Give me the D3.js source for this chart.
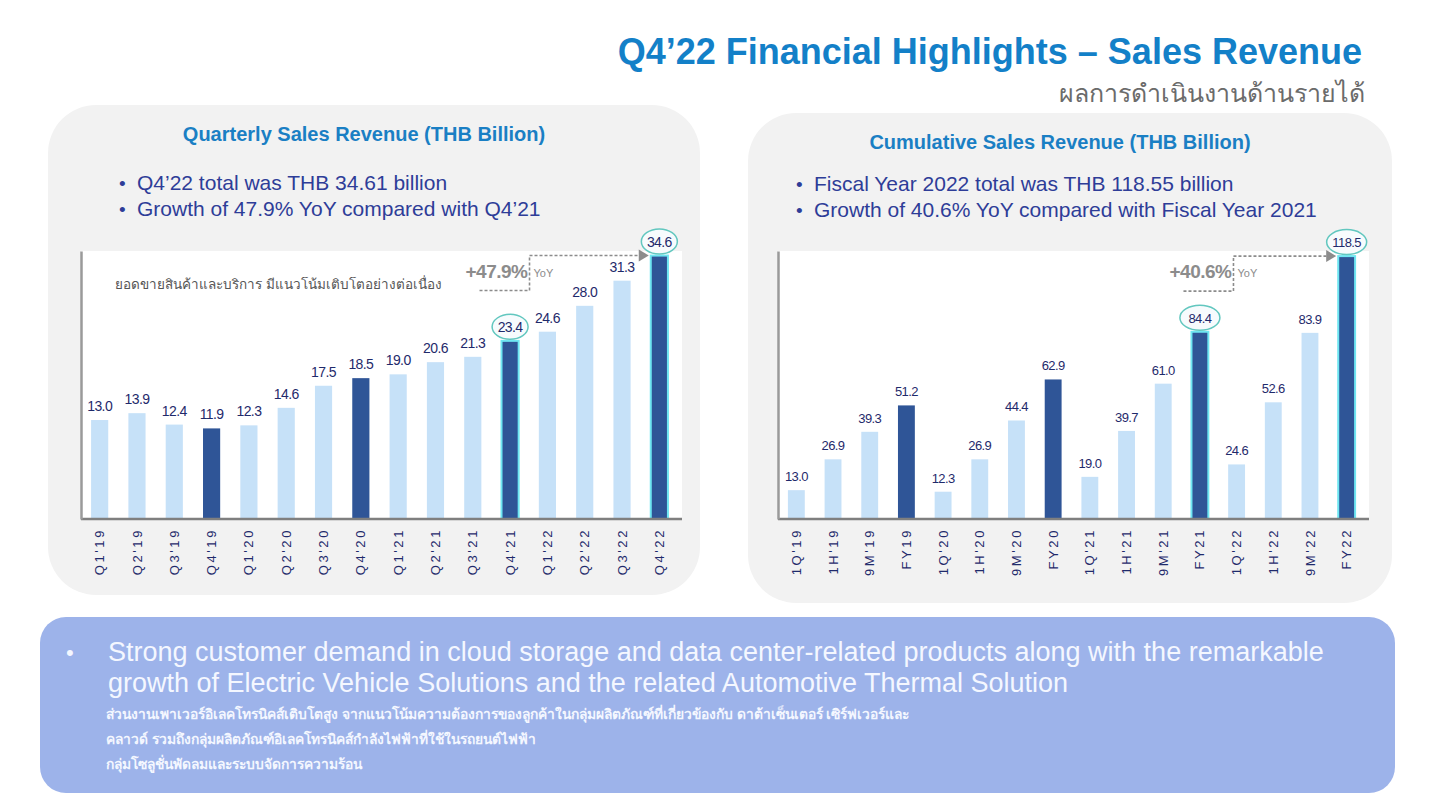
<!DOCTYPE html>
<html lang="en">
<head>
<meta charset="UTF-8">
<script src="https://d3js.org/d3.v7.min.js"></script>
<title>Q4'22 Financial Highlights – Sales Revenue</title>
<style>
  body { margin: 0; background: #fff; }
  text { font-family: "Liberation Sans", Arial, sans-serif; }
</style>
</head>
<body>
<script>
// quarterly chart
const qCategories = ["Q1'19", "Q2'19", "Q3'19", "Q4'19", "Q1'20", "Q2'20", "Q3'20", "Q4'20",
                     "Q1'21", "Q2'21", "Q3'21", "Q4'21", "Q1'22", "Q2'22", "Q3'22", "Q4'22"];
const qValues = [13.0, 13.9, 12.4, 11.9, 12.3, 14.6, 17.5, 18.5, 19.0, 20.6, 21.3, 23.4, 24.6, 28.0, 31.3, 34.6];
const qDark = ["Q4'19", "Q4'20", "Q4'21", "Q4'22"];
const qCircled = ["Q4'21", "Q4'22"];

// cumulative chart
const cCategories = ["1Q'19", "1H'19", "9M'19", "FY19", "1Q'20", "1H'20", "9M'20", "FY20",
                     "1Q'21", "1H'21", "9M'21", "FY21", "1Q'22", "1H'22", "9M'22", "FY22"];
const cValues = [13.0, 26.9, 39.3, 51.2, 12.3, 26.9, 44.4, 62.9, 19.0, 39.7, 61.0, 84.4, 24.6, 52.6, 83.9, 118.5];
const cDark = ["FY19", "FY20", "FY21", "FY22"];
const cCircled = ["FY21", "FY22"];

const W = 1438, H = 805;
const LIGHT = "#c6e1f8", DARK = "#2f5597", NAVY = "#1f2a6b";

const svg = d3.select("body").append("svg")
    .attr("width", W)
    .attr("height", H);

// page title
svg.append("text")
    .attr("x", 1362).attr("y", 64)
    .attr("text-anchor", "end")
    .attr("font-size", 36).attr("font-weight", "bold")
    .attr("fill", "#1380c8")
    .text("Q4’22 Financial Highlights – Sales Revenue");
svg.append("text")
    .attr("x", 1365).attr("y", 102)
    .attr("text-anchor", "end")
    .attr("font-size", 25)
    .attr("fill", "#6b6b6b")
    .text("ผลการดำเนินงานด้านรายได้");

function drawPanel(opt) {
    const g = svg.append("g");
    g.append("rect")
        .attr("x", opt.px).attr("y", opt.py)
        .attr("width", opt.pw).attr("height", opt.ph)
        .attr("rx", 48)
        .attr("fill", "#f2f2f2");

    g.append("text")
        .attr("x", opt.px + opt.pw / 2 - 10).attr("y", opt.py + 36)
        .attr("text-anchor", "middle")
        .attr("font-size", 20).attr("font-weight", "bold")
        .attr("fill", "#1a7fc4")
        .text(opt.title);

    opt.bullets.forEach((b, i) => {
        g.append("text")
            .attr("x", opt.bx).attr("y", opt.by + i * 26)
            .attr("font-size", 19).attr("fill", "#2e3d98")
            .text("•");
        g.append("text")
            .attr("x", opt.bx + 18).attr("y", opt.by + i * 26)
            .attr("font-size", 21).attr("fill", "#2e3d98")
            .text(b);
    });

    const x = d3.scaleBand()
        .domain(opt.categories)
        .range([opt.left, opt.right])
        .paddingInner(0.54).paddingOuter(0.27);
    const y = d3.scaleLinear()
        .domain([0, opt.yMax])
        .range([519, 251]);

    // plot background
    g.append("rect")
        .attr("x", opt.left).attr("y", 251)
        .attr("width", opt.right - opt.left + 4).attr("height", 268)
        .attr("fill", "#fff");

    const data = opt.categories.map((c, i) => ({ c, v: opt.values[i] }));

    g.selectAll("rect.bar")
        .data(data)
        .join("rect")
        .attr("class", "bar")
        .attr("x", d => x(d.c))
        .attr("y", d => y(d.v))
        .attr("width", x.bandwidth())
        .attr("height", d => y(0) - y(d.v))
        .attr("fill", d => opt.dark.includes(d.c) ? DARK : LIGHT)
        .attr("stroke", d => opt.circled.includes(d.c) ? "#6fe6f2" : "none")
        .attr("stroke-width", 2);

    // circled labels
    g.selectAll("ellipse.hl")
        .data(data.filter(d => opt.circled.includes(d.c)))
        .join("ellipse")
        .attr("class", "hl")
        .attr("cx", d => x(d.c) + x.bandwidth() / 2)
        .attr("cy", d => y(d.v) - 14)
        .attr("rx", opt.ellRx).attr("ry", 12.5)
        .attr("fill", "#f7fbfd")
        .attr("stroke", "#62c7bf").attr("stroke-width", 1.5);

    g.selectAll("text.val")
        .data(data)
        .join("text")
        .attr("class", "val")
        .attr("x", d => x(d.c) + x.bandwidth() / 2)
        .attr("y", d => y(d.v) - 9)
        .attr("text-anchor", "middle")
        .attr("font-size", opt.valSize)
        .attr("letter-spacing", -0.6)
        .attr("fill", NAVY)
        .text(d => d.v.toFixed(1));

    // axes
    const xAxis = g.append("g")
        .attr("transform", `translate(0,${y(0)})`)
        .call(d3.axisBottom(x).tickSize(0).tickSizeOuter(0));
    xAxis.select(".domain")
        .attr("stroke", "#7f7f7f").attr("stroke-width", 2.5)
        .attr("d", `M${opt.left},0H${opt.right + 4}`);
    xAxis.selectAll("text")
        .attr("transform", "rotate(-90)")
        .attr("text-anchor", "end")
        .attr("x", -9).attr("y", 0).attr("dy", "0.35em")
        .attr("font-size", 13)
        .attr("letter-spacing", 2.6)
        .attr("font-family", "'Liberation Sans', Arial, sans-serif")
        .attr("fill", NAVY);

    const yAxis = g.append("g")
        .attr("transform", `translate(${opt.left},0)`)
        .call(d3.axisLeft(y).tickValues([]).tickSizeOuter(0));
    yAxis.select(".domain").attr("stroke", "#9a9a9a").attr("stroke-width", 2.5);

    // YoY growth arrow
    const lastC = opt.categories[opt.categories.length - 1];
    const lastV = opt.values[opt.values.length - 1];
    const topY = y(lastV);
    const vx = x(opt.arrowFrom) + opt.arrowOffset;
    const endX = x(lastC) - 8;
    const bottomY = topY + 35;
    const dash = { stroke: "#8c8c8c", "stroke-width": 1.6, "stroke-dasharray": "3,2", fill: "none" };
    const arrow = g.append("path")
        .attr("d", `M${vx - 50},${bottomY}H${vx}V${topY}H${endX}`);
    Object.entries(dash).forEach(([k, v]) => arrow.attr(k, v));
    g.append("path")
        .attr("d", `M${endX + 6},${topY}L${endX - 4},${topY - 6}L${endX - 4},${topY + 6}Z`)
        .attr("fill", "#8c8c8c");
    g.append("text")
        .attr("x", vx - 2).attr("y", topY + 22)
        .attr("text-anchor", "end")
        .attr("font-size", 19).attr("font-weight", "bold")
        .attr("letter-spacing", -0.5)
        .attr("fill", "#8c8c8c")
        .text(opt.yoy);
    g.append("text")
        .attr("x", vx + 4).attr("y", topY + 21)
        .attr("font-size", 11)
        .attr("fill", "#8c8c8c")
        .text("YoY");

    return g;
}

const left = drawPanel({
    px: 48, py: 105, pw: 652, ph: 490,
    title: "Quarterly Sales Revenue (THB Billion)",
    bx: 119, by: 190,
    bullets: ["Q4’22 total was THB 34.61 billion", "Growth of 47.9% YoY compared with Q4’21"],
    categories: qCategories, values: qValues, dark: qDark, circled: qCircled,
    left: 81, right: 678, yMax: 35.2, valSize: 14, ellRx: 18,
    arrowFrom: "Q4'21", arrowOffset: 28, yoy: "+47.9%"
});
left.append("text")
    .attr("x", 115).attr("y", 289)
    .attr("font-size", 13.5)
    .attr("fill", "#555")
    .text("ยอดขายสินค้าและบริการ มีแนวโน้มเติบโตอย่างต่อเนื่อง");

drawPanel({
    px: 748, py: 113, pw: 644, ph: 490,
    title: "Cumulative Sales Revenue (THB Billion)",
    bx: 796, by: 191,
    bullets: ["Fiscal Year 2022 total was THB 118.55 billion", "Growth of 40.6% YoY compared with Fiscal Year 2021"],
    categories: cCategories, values: cValues, dark: cDark, circled: cCircled,
    left: 778, right: 1365, yMax: 120.8, valSize: 13, ellRx: 20,
    arrowFrom: "FY21", arrowOffset: 42, yoy: "+40.6%"
});

// bottom summary box
svg.append("rect")
    .attr("x", 40).attr("y", 617)
    .attr("width", 1355).attr("height", 176)
    .attr("rx", 26)
    .attr("fill", "#9db3ea");

const engLines = [
    "Strong customer demand in cloud storage and data center-related products along with the remarkable",
    "growth of Electric Vehicle Solutions and the related Automotive Thermal Solution"
];
const thaiLines = [
    "ส่วนงานเพาเวอร์อิเลคโทรนิคส์เติบโตสูง จากแนวโน้มความต้องการของลูกค้าในกลุ่มผลิตภัณฑ์ที่เกี่ยวข้องกับ ดาต้าเซ็นเตอร์ เซิร์ฟเวอร์และ",
    "คลาวด์ รวมถึงกลุ่มผลิตภัณฑ์อิเลคโทรนิคส์กำลังไฟฟ้าที่ใช้ในรถยนต์ไฟฟ้า",
    "กลุ่มโซลูชั่นพัดลมและระบบจัดการความร้อน"
];
svg.append("text")
    .attr("x", 66).attr("y", 660)
    .attr("font-size", 22).attr("fill", "#f4f7ff")
    .text("•");
engLines.forEach((t, i) => {
    svg.append("text")
        .attr("x", 108).attr("y", 661 + i * 31)
        .attr("font-size", 27).attr("fill", "#f4f7ff")
        .text(t);
});
thaiLines.forEach((t, i) => {
    svg.append("text")
        .attr("x", 106).attr("y", 719 + i * 25)
        .attr("font-size", 13.8).attr("font-weight", "bold")
        .attr("fill", "#f4f7ff")
        .text(t);
});
</script>
</body>
</html>
